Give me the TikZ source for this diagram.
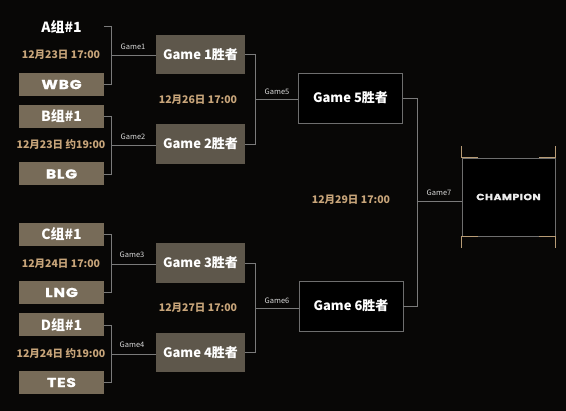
\documentclass[tikz,border=0pt]{standalone}
\usepackage{fontspec}
\setmainfont{Noto Sans CJK SC}
\newfontfamily\teamfont{Poppins}[FakeStretch=1.2,LetterSpace=6,FakeBold=1]
\definecolor{bg}{HTML}{080706}
\definecolor{teambox}{HTML}{776B58}
\definecolor{gamebox}{HTML}{5E574B}
\definecolor{datec}{HTML}{C8A57A}
\definecolor{wirec}{HTML}{7A7A7A}
\definecolor{bordc}{HTML}{6E6E6E}
\definecolor{goldc}{HTML}{B89C76}
\tikzset{
  team/.style={fill=teambox, minimum width=85pt, minimum height=23pt, inner sep=0pt, text=white, font=\fontsize{14}{14}\selectfont\bfseries},
  teamlat/.style={team, font=\fontsize{13}{13}\selectfont\teamfont\bfseries},
  game/.style={fill=gamebox, minimum width=89pt, minimum height=39.5pt, inner sep=0pt, text=white, font=\fontsize{13}{13}\selectfont\bfseries},
  final/.style={fill=black, draw=bordc, line width=0.8pt, minimum width=104pt, minimum height=50pt, inner sep=0pt, text=white, font=\fontsize{13}{13}\selectfont\bfseries},
  datel/.style={text=datec, inner sep=0pt, font=\fontsize{10.5}{11}\selectfont\bfseries},
  glabel/.style={text=white!85!black, inner sep=0pt, font=\fontsize{7.5}{8}\selectfont},
  wire/.style={draw=wirec, line width=0.8pt},
  goldmark/.style={draw=goldc, line width=1.6pt}
}
\begin{document}
\begin{tikzpicture}[x=1pt,y=-1pt]
\fill[bg] (0,0) rectangle (566,411);
\useasboundingbox (0,0) rectangle (566,411);

% left column
\node[text=white, inner sep=0pt, font=\fontsize{14}{14}\selectfont\bfseries] (A) at (61.5,27) {A组\#1};
\node[teamlat] (WBG) at (61.5,84.5) {WBG};
\node[team] (B) at (61.5,116.5) {B组\#1};
\node[teamlat] (BLG) at (61.5,174) {BLG};
\node[team] (C) at (61.5,234.5) {C组\#1};
\node[teamlat] (LNG) at (61.5,292.5) {LNG};
\node[team] (D) at (61.5,325) {D组\#1};
\node[teamlat] (TES) at (61.5,382.5) {TES};

\node[datel] (d1) at (61,55) {12月23日 17:00};
\node[datel] (d2) at (61,145) {12月23日 约19:00};
\node[datel] (d3) at (61,263.5) {12月24日 17:00};
\node[datel] (d4) at (61,354) {12月24日 约19:00};

% game boxes
\node[game] (G1) at (200.5,54.5) {Game 1胜者};
\node[game] (G2) at (200.5,144) {Game 2胜者};
\node[game] (G3) at (200.5,263) {Game 3胜者};
\node[game] (G4) at (200.5,352.5) {Game 4胜者};

\node[datel] (d12) at (198,100) {12月26日 17:00};
\node[datel] (d34) at (198,308) {12月27日 17:00};

\node[final] (G5) at (350.5,98) {Game 5胜者};
\node[final] (G6) at (351,306) {Game 6胜者};

\node[datel] (d56) at (351,200) {12月29日 17:00};

\node[fill=black, draw=bordc, line width=0.8pt, minimum width=93pt, minimum height=78pt, inner sep=0pt, text=white!92!black, font=\fontsize{9}{9}\selectfont\teamfont\bfseries] (CH) at (508.5,197) {CHAMPION};

% corner marks
\draw[goldmark] ([xshift=16pt]CH.north west) -- (CH.north west) -- ([yshift=12pt]CH.north west);
\draw[goldmark] ([xshift=-16pt]CH.north east) -- (CH.north east) -- ([yshift=12pt]CH.north east);
\draw[goldmark] ([xshift=16pt]CH.south west) -- (CH.south west) -- ([yshift=-12pt]CH.south west);
\draw[goldmark] ([xshift=-16pt]CH.south east) -- (CH.south east) -- ([yshift=-12pt]CH.south east);

% brackets round 1
\coordinate (aTop) at (104,26);
\draw[wire] (aTop) -- ++(7,0) |- (WBG.east);
\coordinate (m1) at (111,55);
\draw[wire] (m1) -- (m1 -| G1.west);

\draw[wire] (B.east) -- ++(7,0) |- (BLG.east);
\coordinate (m2) at (111,145);
\draw[wire] (m2) -- (m2 -| G2.west);

\draw[wire] (C.east) -- ++(7,0) |- (LNG.east);
\coordinate (m3) at (111,264);
\draw[wire] (m3) -- (m3 -| G3.west);

\draw[wire] (D.east) -- ++(7,0) |- (TES.east);
\coordinate (m4) at (111,354);
\draw[wire] (m4) -- (m4 -| G4.west);

% round 2
\draw[wire] (G1.east) -- ++(10,0) |- (G2.east);
\coordinate (m12) at (255,99.5);
\draw[wire] (m12) -- (m12 -| G5.west);
\draw[wire] (G3.east) -- ++(10,0) |- (G4.east);
\coordinate (m34) at (255,308);
\draw[wire] (m34) -- (m34 -| G6.west);

% final
\draw[wire] (G5.east) -- ++(14,0) |- (G6.east);
\coordinate (m56) at (416.5,201);
\draw[wire] (m56) -- (m56 -| CH.west);

% game labels
\node[glabel] (l1) at (133,47) {Game1};
\node[glabel] (l2) at (133,137) {Game2};
\node[glabel] (l3) at (132,254.5) {Game3};
\node[glabel] (l4) at (132,344.5) {Game4};
\node[glabel] (l5) at (277,92) {Game5};
\node[glabel] (l6) at (277,301) {Game6};
\node[glabel] (l7) at (439,193) {Game7};
\end{tikzpicture}
\end{document}
